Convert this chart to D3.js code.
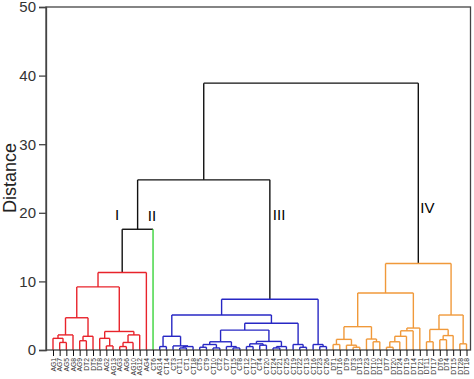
<!DOCTYPE html>
<html>
<head>
<meta charset="utf-8">
<script src="https://cdn.jsdelivr.net/npm/d3@7"></script>
<style>
  body { margin: 0; background: #fff; }
  svg { display: block; font-family: "Liberation Sans", Arial, sans-serif; }
</style>
</head>
<body>
<div id="chart"></div>
<script>
// leaf labels, left to right, one list per cluster
var leavesI = ["AG1", "AG7", "AG5", "AG8", "AG9", "DT2", "DT5", "DT8", "AG2", "AG13", "AG3", "AG6", "AG10", "AG12", "AG4"]
var leavesII = ["CT6"]
var leavesIII = ["AG14", "CT14", "CT3", "CT11", "CT1", "CT18", "CT5", "CT9", "CT10", "CT2", "CT7", "CT15", "CT8",
  "CT12", "CT17", "CT4", "CT20", "CT24", "CT21", "CT25", "CT19", "CT22", "CT13", "CT16", "CT23", "CT26"]
var leavesIV = ["DT1", "DT16", "DT9", "DT3", "DT13", "DT23", "DT10", "DT12", "DT7", "DT20", "DT24", "DT19", "DT14",
  "DT21", "DT11", "DT17", "DT6", "DT4", "DT15", "DT28", "DT18"]

// merge steps: [a, b, distance]; ids 0-62 are leaves, merge k gets id 63 + k
var merges = [
  [1, 2, 1.1], [0, 63, 1.7], [64, 3, 2.2], [4, 5, 1.35], [66, 6, 2.0], [65, 67, 4.7],
  [8, 9, 0.6], [7, 69, 1.7], [10, 11, 0.5], [71, 12, 1.1], [72, 13, 2.2], [70, 73, 2.7],
  [68, 74, 9.2], [75, 14, 11.3], [76, 15, 17.6],
  [16, 17, 0.5], [19, 20, 0.3], [79, 21, 0.5], [18, 80, 0.6], [78, 81, 2.0],
  [22, 23, 0.4], [24, 25, 0.3], [83, 84, 0.8], [27, 28, 0.3], [26, 86, 0.5], [85, 87, 1.2],
  [29, 30, 0.5], [31, 32, 0.7], [89, 90, 0.9], [33, 34, 0.3], [92, 35, 0.5], [91, 93, 1.25],
  [88, 94, 2.9], [37, 38, 0.4], [36, 96, 0.8], [95, 97, 3.9], [82, 98, 5.1],
  [40, 41, 0.5], [39, 100, 0.8], [99, 101, 7.4],
  [77, 102, 24.8],
  [42, 43, 0.8], [45, 46, 0.4], [44, 105, 0.7], [104, 106, 1.55], [48, 49, 1.2], [47, 108, 1.6],
  [107, 109, 3.4], [50, 51, 0.4], [111, 52, 1.2], [112, 53, 2.0], [113, 54, 2.8], [114, 55, 3.2],
  [110, 115, 8.3], [56, 57, 1.2], [58, 59, 1.5], [118, 60, 2.1], [117, 119, 3.0], [61, 62, 0.9],
  [120, 121, 5.1], [116, 122, 12.6],
  [103, 123, 38.9]
]

var clusterNames = ["I", "II", "III", "IV"]
var clusterColors = ["#e8232b", "#3ad43a", "#2727c4", "#f0993a"]
var yTicks = [0, 10, 20, 30, 40, 50]

var width = 474, height = 379
var margin = { top: 7, right: 3, bottom: 29, left: 46 }

var svg = d3.select("#chart").append("svg")
  .attr("width", width)
  .attr("height", height)

var leafLists = [leavesI, leavesII, leavesIII, leavesIV]
var leaves = [], leafCluster = []
leafLists.forEach(function (list, ci) {
  list.forEach(function (name) {
    leaves.push(name)
    leafCluster.push(ci)
  })
})

// build nested tree from merge table
var nodes = leaves.map(function (name, i) {
  return { name: name, index: i, dist: 0, cluster: leafCluster[i] }
})
merges.forEach(function (m) {
  var a = nodes[m[0]], b = nodes[m[1]]
  nodes.push({
    children: [a, b],
    dist: m[2],
    cluster: a.cluster === b.cluster ? a.cluster : -1
  })
})
var root = d3.hierarchy(nodes[nodes.length - 1])

var x = d3.scalePoint()
  .domain(leaves)
  .range([53, 466.5])

var y = d3.scaleLinear()
  .domain([0, 50])
  .range([height - margin.bottom, margin.top])

// x of each node = middle of its two children
root.eachAfter(function (d) {
  if (!d.children) d.px = x(d.data.name)
  else d.px = (d.children[0].px + d.children[1].px) / 2
})

function colorOf(c) {
  return c < 0 ? "#111" : clusterColors[c]
}

var links = svg.append("g").attr("fill", "none").attr("stroke-width", 1.4)

// draw each merge as a U, verticals to leaves get the leaf colour
root.descendants().filter(function (d) { return d.children }).forEach(function (d) {
  var col = colorOf(d.data.cluster)
  var a = d.children[0], b = d.children[1]
  links.append("path")
    .attr("stroke", col)
    .attr("d", "M" + a.px + "," + y(d.data.dist) + "H" + b.px)
  d.children.forEach(function (c) {
    links.append("path")
      .attr("stroke", c.children ? col : colorOf(c.data.cluster))
      .attr("d", "M" + c.px + "," + y(c.data.dist) + "V" + y(d.data.dist))
  })
})

// frame
svg.append("rect")
  .attr("x", margin.left)
  .attr("y", margin.top)
  .attr("width", width - margin.right - margin.left - 0.5)
  .attr("height", y(0) - margin.top)
  .attr("fill", "none")
  .attr("stroke", "#444")
  .attr("stroke-width", 1.3)

// y axis
var yAxis = svg.append("g")
  .attr("transform", "translate(" + margin.left + ",0)")
  .call(d3.axisLeft(y).tickValues(yTicks).tickSize(7).tickPadding(3))
yAxis.select(".domain").attr("stroke", "#444").attr("stroke-width", 1.3)
yAxis.selectAll(".tick line").attr("stroke", "#444").attr("stroke-width", 1.3)
yAxis.selectAll(".tick text")
  .attr("fill", "#333")
  .style("font-size", "15px")

svg.append("text")
  .attr("transform", "translate(16,178) rotate(-90)")
  .attr("text-anchor", "middle")
  .attr("fill", "#222")
  .style("font-size", "18px")
  .text("Distance")

// leaf axis
var xAxis = svg.append("g")
  .attr("transform", "translate(0," + y(0) + ")")
  .call(d3.axisBottom(x).tickSize(6).tickSizeOuter(0).tickPadding(2))
xAxis.select(".domain").remove()
xAxis.selectAll(".tick line").attr("stroke", "#111")
xAxis.selectAll(".tick text")
  .attr("fill", "#333")
  .style("font-size", "6.8px")
  .attr("text-anchor", "end")
  .attr("dy", "0.32em")
  .attr("transform", "translate(0,8) rotate(-90)")
  .attr("x", 0)
  .attr("y", 0)

// cluster numerals, placed beside the stem of each cluster
var clusterRoots = clusterNames.map(function (name, ci) {
  var best = null
  root.each(function (d) {
    if (d.data.cluster === ci && (!best || d.data.dist > best.data.dist)) best = d
  })
  return best
})
var numeralOffset = [-3, -1, 3, 2]
var numeralAnchor = ["end", "middle", "start", "start"]
var numeralLevel = [19.7, 19.5, 19.7, 20.8]
svg.append("g").selectAll("text")
  .data(clusterNames)
  .enter()
  .append("text")
  .attr("x", function (d, i) { return clusterRoots[i].px + numeralOffset[i] })
  .attr("y", function (d, i) { return y(numeralLevel[i]) })
  .attr("dy", "0.35em")
  .attr("text-anchor", function (d, i) { return numeralAnchor[i] })
  .attr("fill", "#000")
  .style("font-size", "15px")
  .text(function (d) { return d })
</script>
</body>
</html>
